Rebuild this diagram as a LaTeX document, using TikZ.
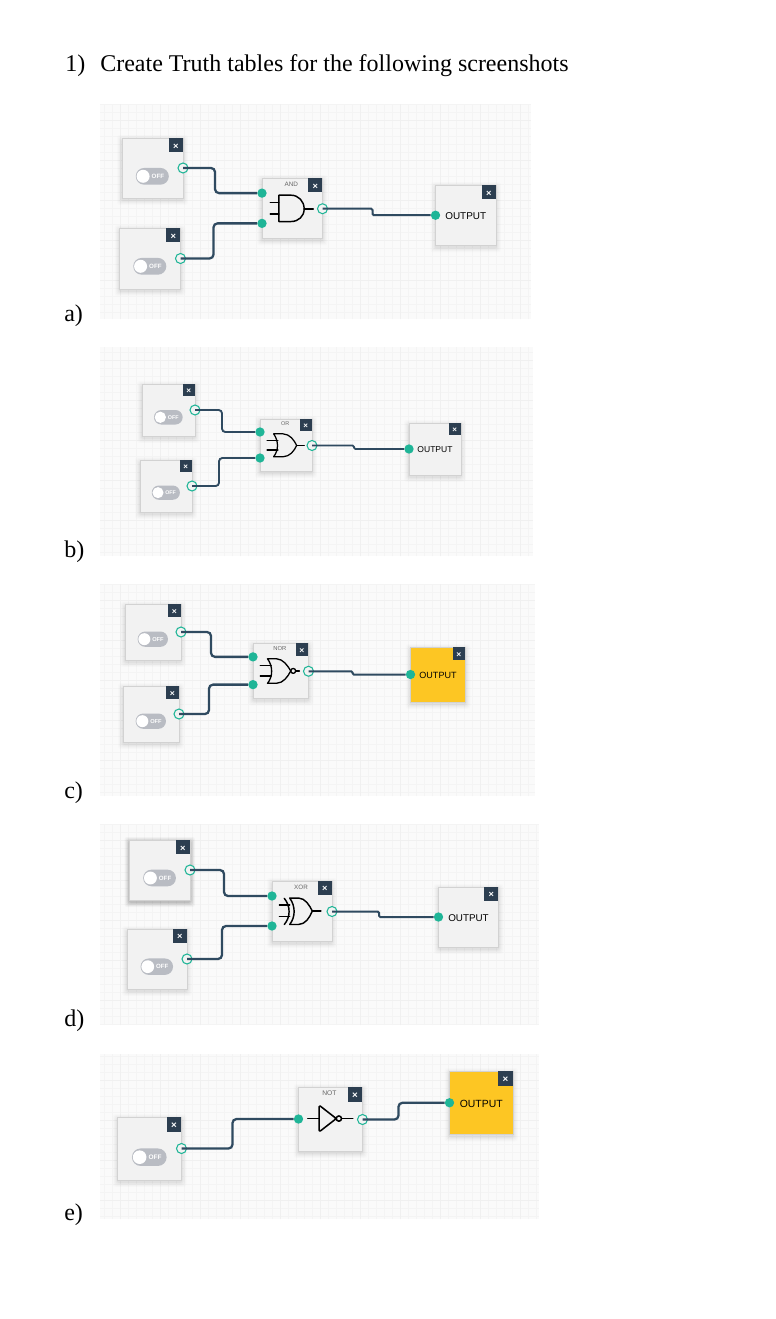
\documentclass[tikz,border=0pt]{standalone}
\usepackage{fontspec}
\setmainfont{Liberation Serif}
\setsansfont{Liberation Sans}
\usetikzlibrary{calc}
\definecolor{wirecol}{HTML}{2F4A60}
\definecolor{teal1}{HTML}{1FB597}
\definecolor{btncol}{HTML}{2C3E50}
\definecolor{cardcol}{HTML}{F2F2F2}
\definecolor{cardline}{HTML}{D2D2D2}
\definecolor{yellow1}{HTML}{FDC623}
\definecolor{panelcol}{HTML}{FAFAFA}
\definecolor{gridfine}{HTML}{F4F4F4}
\definecolor{gridbold}{HTML}{F0F0F0}
\definecolor{pillcol}{HTML}{B9BCC3}
\tikzset{
  wirea/.style={draw=wirecol,line width=1.7pt,rounded corners=3pt},
  wireb/.style={draw=wirecol,line width=1.4pt,rounded corners=2.5pt},
  wirestep/.style={draw=wirecol,line width=1.5pt,rounded corners=1pt},
  card/.style={draw=cardline,line width=.5pt,anchor=north west,inner sep=0pt,outer sep=0pt},
  inport/.style={circle,fill=teal1,inner sep=0pt,minimum size=7pt},
  outport/.style={circle,draw=teal1,fill=cardcol,line width=.8pt,inner sep=0pt,minimum size=7.5pt},
  closebtn/.style={fill=btncol,text=white,inner sep=0pt,anchor=north east,font=\sffamily\bfseries},
  pill/.style={fill=pillcol,rounded corners=6pt,inner sep=0pt,text=white,align=right},
  knob/.style={circle,fill=white,inner sep=0pt},
  gateline/.style={draw=black,line join=round,line cap=round},
  slabel/.style={font=\rmfamily\fontsize{18}{20}\selectfont,anchor=base west,inner sep=0pt}
}
% soft shadow under a card
\newcommand\cardshadow[5]{%
  \foreach \g/\op in {5/.012,4/.016,3/.02,2/.025,1/.03}{
    \fill[black,opacity=\op*#5,rounded corners=2pt] (#1-\g,#2-\g+2) rectangle (#3+\g,#4+\g+2);
  }}
% panel: name x0 y0 x1 y1
\newcommand\panel[5]{%
  \fill[panelcol] (#2,#3) rectangle (#4,#5);
  \begin{scope}
    \clip (#2,#3) rectangle (#4,#5);
    \draw[gridfine,line width=.3pt,step=6pt] (#2,#3) grid (#4,#5);
    \draw[gridbold,line width=.4pt,step=30pt] (#2,#3) grid (#4,#5);
  \end{scope}}
% card: name x y w h fill shadow
\newcommand\cardbox[7]{%
  \cardshadow{#2}{#3}{#2+#4}{#3+#5}{#7}
  \node[card,fill=#6,minimum width=#4*.75pt,minimum height=#5*.75pt] (#1) at (#2,#3) {};
  \pgfmathsetmacro\btn{#4*14/61*.75}
  \pgfmathsetmacro\fsz{#4*.115}
  \node[closebtn,minimum size=\btn pt,text height=.55*\btn pt,text depth=0pt] (#1x) at (#1.north east) {\fontsize{\fsz}{\fsz}\selectfont ×};}
% switch: name x y w h shadow
\newcommand\switchbox[6]{%
  \cardbox{#1}{#2}{#3}{#4}{#5}{cardcol}{#6}
  \pgfmathsetmacro\sc{#4/61}
  \pgfmathsetmacro\fsz{6.2*\sc*.75}
  \node[pill,minimum width=33*\sc*.75pt,minimum height=16.7*\sc*.75pt,rounded corners=6.2*\sc pt] (#1t) at ($(#1.north west)+(30.3*\sc,38.3*\sc)$) {};
  \node[font=\sffamily\bfseries,text=white,inner sep=0pt] (#1o) at ($(#1t.center)+(5.6*\sc,0)$) {\fontsize{\fsz}{\fsz}\selectfont OFF};
  \node[knob,minimum size=13*\sc*.75pt] (#1k) at ($(#1t.center)+(-9.2*\sc,0)$) {};
  \node[outport] (#1p) at (#1.east) {};}
% output: name x y w fill shadow
\newcommand\outbox[6]{%
  \cardbox{#1}{#2}{#3}{#4}{#4}{#5}{#6}
  \pgfmathsetmacro\fsz{#4*.164*.75}
  \node[font=\sffamily,inner sep=0pt,text=black] (#1l) at ($(#1.center)+(0,1)$) {\fontsize{\fsz}{\fsz}\selectfont OUTPUT};
  \node[inport] (#1p) at (#1.west) {};}
% gate: name x y w label
\newcommand\gatebox[5]{%
  \cardbox{#1}{#2}{#3}{#4}{#4}{cardcol}{1}
  \pgfmathsetmacro\sc{#4/61}
  \pgfmathsetmacro\fsz{6.4*\sc*.75}
  \node[font=\sffamily,text=black!60,inner sep=0pt] (#1l) at ($(#1.north west)+(29.5*\sc,6*\sc)$) {\fontsize{\fsz}{\fsz}\selectfont #5};
  \node[outport] (#1p) at ($(#1.east)+(0,.5)$) {};}
\newcommand\twoin[2]{%
  \node[inport] (#1a) at ($(#1.north west)+(0,#2*.25)$) {};
  \node[inport] (#1b) at ($(#1.north west)+(0,#2*.75)$) {};}
% symbols, in a 61-unit box
\newcommand\symscope[3]{\begin{scope}[shift={($(#1.north west)+(0,.6)$)},x=#2*.75pt/61,y=-#2*.75pt/61,gateline,line width=#2*.018pt]#3\end{scope}}
\newcommand\stubs{\draw (8.3,24.3) -- (17,24.3) (8.3,35.7) -- (17,35.7);}
\newcommand\orbody{\draw (16,16.7) -- (27,16.7) .. controls (35,17) and (40,24) .. (43,30.3) .. controls (40,37) and (35,43.3) .. (27,43.6) -- (16,43.6) .. controls (22,36) and (22,25) .. (16,16.7) -- cycle;}
\newcommand\wire[4]{\draw[#1] (#2.center) -- ++(#4,0) |- (#3.west);}
\begin{document}
\begin{tikzpicture}[x=.75pt,y=-.75pt]
\useasboundingbox (0,0) rectangle (775,1319);
\fill[white] (0,0) rectangle (775,1319);
\node[slabel] (num) at (65,72) {1)};
\node[slabel] (title) at (100,72) {Create Truth tables for the following screenshots};
\node[slabel] (la) at (64,321) {a)};
\node[slabel] (lb) at (64,557) {b)};
\node[slabel] (lc) at (64,798) {c)};
\node[slabel] (ld) at (64,1026) {d)};
\node[slabel] (le) at (64,1220) {e)};
% a
\panel{pa}{100}{104}{531}{319}
\switchbox{a1}{122}{138}{61}{60}{1}
\switchbox{a2}{119.5}{228}{61}{61}{1}
\gatebox{ag}{262}{178}{60.5}{AND}\twoin{ag}{60.5}
\outbox{ao}{435.5}{185}{60.5}{cardcol}{1}
\symscope{ag}{60.5}{\stubs\draw (17,16.7) -- (29,16.7) .. controls (37,16.7) and (42.5,23) .. (42.5,30.5) .. controls (42.5,38) and (37,43.3) .. (29,43.3) -- (17,43.3) -- cycle;\draw (42.5,30.5) -- (51.7,30.5);}
\wire{wirea}{a1p}{aga}{32}
\wire{wirea}{a2p}{agb}{33}
\wire{wirestep}{agp}{aop}{50}
% b
\panel{pb}{100}{347}{533}{556}
\switchbox{b1}{142}{384}{53}{52}{1}
\switchbox{b2}{140}{460}{52}{52}{1}
\gatebox{bg}{260}{419}{52}{OR}\twoin{bg}{52}
\outbox{bo}{409}{423}{52}{cardcol}{1}
\symscope{bg}{52}{\draw (8.3,24.3) -- (21,24.3) (8.3,35.7) -- (21,35.7);\orbody\draw (43,30.3) -- (52,30.3);}
\wire{wireb}{b1p}{bga}{27}
\wire{wireb}{b2p}{bgb}{27}
\wire{wireb,rounded corners=1pt}{bgp}{bop}{42}
% c
\panel{pc}{100}{584}{535}{796}
\switchbox{c1}{125}{604}{56}{56}{1}
\switchbox{c2}{123}{686}{56}{56}{1}
\gatebox{cg}{253}{643}{55.5}{NOR}\twoin{cg}{55.5}
\outbox{co}{410.5}{647}{55}{yellow1}{1}
\symscope{cg}{55.5}{\draw (8,24.3) -- (20,24.3) (8,35.7) -- (20,35.7);\draw (16,16.7) -- (26,16.7) .. controls (33,17) and (38,24) .. (41.5,30) .. controls (38,37) and (33,43.3) .. (26,43.6) -- (16,43.6) .. controls (22,36) and (22,25) .. (16,16.7) -- cycle;\draw (44.2,30) circle (2.7);\draw (47,30) -- (51,30);}
\wire{wirea}{c1p}{cga}{30}
\wire{wirea}{c2p}{cgb}{30}
\wire{wirestep}{cgp}{cop}{44}
% d
\panel{pd}{100}{824}{539}{1025}
\switchbox{d1}{129.5}{840}{60.5}{60}{2.5}
\switchbox{d2}{127}{929}{60}{60}{1}
\gatebox{dg}{272}{881}{60}{XOR}\twoin{dg}{60}
\outbox{do}{438.5}{887}{60}{cardcol}{1}
\symscope{dg}{60}{\draw (7.5,24) -- (18,24) (7.5,35.7) -- (18,35.7);\draw (12.5,17) .. controls (19,25) and (19,36) .. (12.5,43.6);\draw (18,16.7) -- (27,16.7) .. controls (34,17) and (38,24) .. (41,30) .. controls (38,37) and (34,43.3) .. (27,43.6) -- (18,43.6) .. controls (24,36) and (24,25) .. (18,16.7) -- cycle;\draw (41,30) -- (49.7,30);}
\wire{wirea}{d1p}{dga}{34}
\wire{wirea}{d2p}{dgb}{35}
\wire{wirestep}{dgp}{dop}{47}
% e
\panel{pe}{100}{1054}{539}{1219}
\switchbox{e1}{117.5}{1117}{64}{63}{1}
\gatebox{eg}{298.5}{1087}{64}{NOT}
\node[inport] (ega) at (eg.west) {};
\outbox{eo}{449.5}{1071}{63.5}{yellow1}{1}
\symscope{eg}{64}{\draw (8.9,29.5) -- (19.7,29.5);\draw[rounded corners=1pt] (19.7,16.8) -- (36,29.5) -- (19.7,42.2) -- cycle;\draw (38.5,29.5) circle (2.5);\draw (41.2,29.5) -- (51.8,29.5);}
\wire{wirea}{e1p}{ega}{51}
\wire{wirea}{egp}{eop}{36}
\end{tikzpicture}
\end{document}
